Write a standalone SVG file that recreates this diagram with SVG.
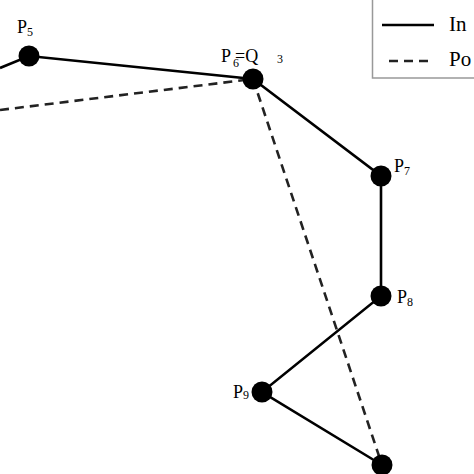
<svg xmlns="http://www.w3.org/2000/svg" width="474" height="474" viewBox="0 0 474 474">
<style>
.s{fill:none;stroke:#000;stroke-width:2.6}
.d{fill:none;stroke:#222;stroke-width:2.6;stroke-dasharray:9,6}
.n{fill:#000}
text{font-family:"Liberation Serif","DejaVu Serif",serif;fill:#000}
.l{font-size:18px}
.sub{font-size:12px}
</style>
<rect width="474" height="474" fill="#fff"/>
<g id="connectors">
<polyline class="s" points="0,68 29,56 253,79 381,176 381,296 262,392 382,465"/>
<line class="d" x1="0" y1="110" x2="253" y2="79"/>
<line class="d" x1="253" y1="79" x2="382" y2="465"/>
</g>
<g id="P5"><circle class="n" cx="29" cy="56" r="10.5"/><text class="l" x="17" y="33">P<tspan class="sub" dy="3">5</tspan></text></g>
<g id="P6"><circle class="n" cx="253" cy="79" r="10.5"/><text class="l" x="221" y="62">P</text><text class="sub" x="233" y="67">6</text><text class="l" x="235" y="62">=Q</text><text class="sub" x="277" y="63">3</text></g>
<g id="P7"><circle class="n" cx="381" cy="176" r="10.5"/><text class="l" x="394" y="172">P<tspan class="sub" dy="3">7</tspan></text></g>
<g id="P8"><circle class="n" cx="381" cy="296" r="10.5"/><text class="l" x="397" y="303">P<tspan class="sub" dy="3">8</tspan></text></g>
<g id="P9"><circle class="n" cx="262" cy="392" r="10.5"/><text class="l" x="233" y="398">P<tspan class="sub" dy="1">9</tspan></text></g>
<g id="P10"><circle class="n" cx="382" cy="465" r="10.5"/><text class="l" x="346" y="487">P</text></g>
<g id="legend">
<rect x="372.5" y="-2" width="110" height="80" fill="#fff" stroke="#999" stroke-width="1.5"/>
<line class="s" x1="382" y1="25" x2="434" y2="25"/>
<line class="d" x1="389" y1="61" x2="434" y2="61" stroke-dasharray="9,8"/>
<text x="449" y="31" font-size="21">In</text>
<text x="449" y="66" font-size="21">Po</text>
</g>
</svg>
